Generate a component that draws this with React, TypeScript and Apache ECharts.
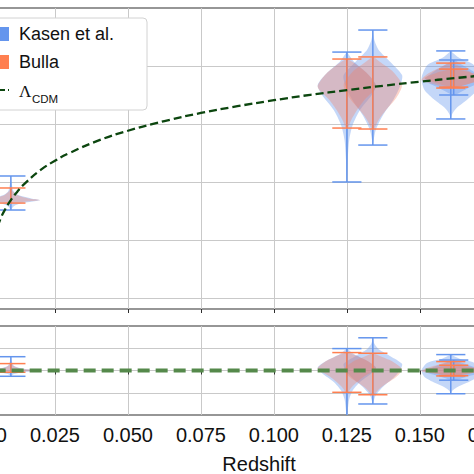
import React, { useEffect, useRef } from "react";
import * as echarts from "echarts";

// ---------- data ----------
const redshiftTicks = [-0.025, 0, 0.025, 0.05, 0.075, 0.1, 0.125, 0.15, 0.175, 0.2];
const muGridValues = [28, 31, 34, 37, 40];
const residualGridValues = [-2, 0, 2];

// Lambda-CDM distance-modulus curve
const lcdmZ = [0.004, 0.0062, 0.008, 0.01, 0.0125, 0.015, 0.02, 0.025, 0.03, 0.04, 0.05, 0.0625, 0.075, 0.0875, 0.1, 0.1125, 0.125, 0.1375, 0.15, 0.1625, 0.175];
const lcdmMu = [31.09, 32.04, 32.6, 33.09, 33.57, 33.97, 34.61, 35.1, 35.5, 36.15, 36.65, 37.15, 37.57, 37.92, 38.23, 38.51, 38.75, 38.98, 39.19, 39.38, 39.56];

// events
const eventZ = [0.0099, 0.125, 0.1339, 0.1606, 0.1616];
const lcdmAtEvent = [33.07, 38.75, 38.92, 39.35, 39.37];

const kasenMin = [32.55, 34.0, 35.91, 37.26, 38.5];
const kasenMax = [34.31, 40.72, 41.86, 40.78, 40.31];
const bullaMin = [32.91, 36.79, 36.74, 38.86, 38.91];
const bullaMax = [33.69, 40.36, 40.47, 40.15, 39.84];

// violin outlines: [distance modulus, relative half-width]
const kasenShapes = [
  [[32.55, 0], [32.75, 0.1], [32.9, 0.35], [33.0, 0.8], [33.07, 1], [33.15, 0.7], [33.3, 0.3], [33.5, 0.1], [33.9, 0.03], [34.31, 0]],
  [[34.0, 0], [35.14, 0.03], [36.17, 0.08], [36.95, 0.2], [37.72, 0.45], [38.5, 0.85], [39.02, 1], [39.69, 0.65], [40.21, 0.25], [40.72, 0]],
  [[35.91, 0], [36.69, 0.1], [37.46, 0.35], [38.24, 0.7], [39.02, 0.95], [39.53, 1], [40.21, 0.6], [40.83, 0.2], [41.34, 0.05], [41.86, 0]],
  [[37.26, 0], [37.52, 0.05], [37.83, 0.2], [38.24, 0.55], [38.76, 0.9], [39.38, 1], [40.05, 0.8], [40.41, 0.3], [40.78, 0]],
  [[38.5, 0.05], [38.86, 0.5], [39.28, 1], [39.69, 0.7], [40.05, 0.3], [40.31, 0.02]],
];
const bullaShapes = [
  [[32.91, 0.05], [33.0, 0.6], [33.07, 1], [33.15, 0.6], [33.3, 0.25], [33.5, 0.08], [33.69, 0]],
  [[36.79, 0.03], [37.21, 0.15], [37.72, 0.35], [38.24, 0.6], [38.91, 1], [39.53, 0.75], [40.05, 0.35], [40.36, 0.02]],
  [[36.74, 0.03], [37.21, 0.2], [37.72, 0.45], [38.34, 0.8], [39.02, 1], [39.69, 0.7], [40.15, 0.3], [40.47, 0.02]],
  [[38.86, 0.1], [39.07, 0.6], [39.28, 1], [39.59, 0.8], [39.9, 0.4], [40.15, 0.05]],
  [[38.91, 0.1], [39.12, 0.6], [39.38, 1], [39.64, 0.6], [39.84, 0.05]],
];

// ---------- styles ----------
const BLUE = "#6495ED";
const ORANGE = "#FF7F50";
const BLUE_FILL = "rgba(100,149,237,0.38)";
const ORANGE_FILL = "rgba(245,128,100,0.34)";
const CURVE = "#0c460f";
const RESID_LINE = "#55894b";
const GRIDC = "#c9c9c9";
const SPINE = "#2e2e2e";
const FONT = "Liberation Sans, Arial, Helvetica, sans-serif";
const HALF = 0.01; // violin half width (redshift units)
const CAP = 0.005;

function bodySeries(shapes: number[][][], fill: string, axis: number, offsets: number[] | null) {
  return {
    type: "custom",
    xAxisIndex: axis,
    yAxisIndex: axis,
    clip: true,
    silent: true,
    data: eventZ.map((z, i) => [z, shapes[i][0][0] - (offsets ? offsets[i] : 0)]),
    encode: { x: 0, y: 1 },
    renderItem: (params: any, api: any) => {
      const i = params.dataIndex;
      const z = eventZ[i];
      const off = offsets ? offsets[i] : 0;
      const sh = shapes[i];
      const right = sh.map(([m, w]) => api.coord([z + w * HALF, m - off]));
      const left = sh
        .slice()
        .reverse()
        .map(([m, w]) => api.coord([z - w * HALF, m - off]));
      return {
        type: "polygon",
        shape: { points: right.concat(left), smooth: 0.25 },
        style: { fill, stroke: "none" },
      };
    },
  };
}

function barSeries(mins: number[], maxs: number[], color: string, axis: number, offsets: number[] | null) {
  return {
    type: "custom",
    xAxisIndex: axis,
    yAxisIndex: axis,
    clip: true,
    silent: true,
    data: eventZ.map((z, i) => [z, maxs[i] - (offsets ? offsets[i] : 0)]),
    encode: { x: 0, y: 1 },
    renderItem: (params: any, api: any) => {
      const i = params.dataIndex;
      const z = eventZ[i];
      const off = offsets ? offsets[i] : 0;
      const lo = mins[i] - off;
      const hi = maxs[i] - off;
      const a = api.coord([z, lo]);
      const b = api.coord([z, hi]);
      const l1 = api.coord([z - CAP, lo]);
      const r1 = api.coord([z + CAP, lo]);
      const l2 = api.coord([z - CAP, hi]);
      const r2 = api.coord([z + CAP, hi]);
      const st = { stroke: color, lineWidth: 1.5 };
      return {
        type: "group",
        children: [
          { type: "line", shape: { x1: a[0], y1: a[1], x2: b[0], y2: b[1] }, style: st },
          { type: "line", shape: { x1: l1[0], y1: l1[1], x2: r1[0], y2: r1[1] }, style: st },
          { type: "line", shape: { x1: l2[0], y1: l2[1], x2: r2[0], y2: r2[1] }, style: st },
        ],
      };
    },
  };
}

const X_MIN = redshiftTicks[0];
const X_MAX = 0.2148;
const GRID_LEFT = -91;
const GRID_W = 700;

function xAxisCfg(grid: number, labels: boolean) {
  return {
    gridIndex: grid,
    type: "value",
    min: X_MIN,
    max: X_MAX,
    interval: 0.025,
    axisLine: { show: false },
    axisTick: { show: true, inside: false, length: 4, lineStyle: { color: SPINE, width: 1 } },
    axisLabel: labels
      ? {
          show: true,
          formatter: (v: number) => v.toFixed(3),
          fontSize: 20,
          fontFamily: FONT,
          color: "#111",
          margin: 10,
          hideOverlap: false,
        }
      : { show: false },
    splitLine: { show: true, lineStyle: { color: GRIDC, width: 1 } },
    ...(labels
      ? {
          name: "Redshift",
          nameLocation: "middle",
          nameGap: 39,
          nameTextStyle: { fontSize: 20, fontFamily: FONT, color: "#111" },
        }
      : {}),
  };
}

export default function App() {
  const ref = useRef<HTMLDivElement>(null);
  useEffect(() => {
    const chart = echarts.init(ref.current as HTMLDivElement, null, { renderer: "svg" });
    const residLcdm = lcdmZ.map((z) => [z, 0]);
    const gridCommon = {
      left: GRID_LEFT,
      width: GRID_W,
      show: true,
      borderColor: SPINE,
      borderWidth: 1.2,
      backgroundColor: "transparent",
      containLabel: false,
      outerBoundsMode: "none",
    };
    const option: any = {
      animation: false,
      backgroundColor: "#ffffff",
      grid: [
        { ...gridCommon, top: 8, height: 301 },
        { ...gridCommon, top: 326, height: 89 },
      ],
      xAxis: [xAxisCfg(0, false), xAxisCfg(1, true)],
      yAxis: [
        {
          gridIndex: 0,
          type: "value",
          min: 27.43,
          max: 43,
          axisLine: { show: false },
          axisTick: { show: false, customValues: muGridValues },
          axisLabel: { show: false, customValues: muGridValues },
          splitLine: { show: true, lineStyle: { color: GRIDC, width: 1 } },
        },
        {
          gridIndex: 1,
          type: "value",
          min: -4,
          max: 4,
          axisLine: { show: false },
          axisTick: { show: false, customValues: residualGridValues },
          axisLabel: { show: false, customValues: residualGridValues },
          splitLine: { show: true, lineStyle: { color: GRIDC, width: 1 } },
        },
      ],
      series: [
        bodySeries(kasenShapes, BLUE_FILL, 0, null),
        bodySeries(bullaShapes, ORANGE_FILL, 0, null),
        barSeries(kasenMin, kasenMax, BLUE, 0, null),
        barSeries(bullaMin, bullaMax, ORANGE, 0, null),
        {
          type: "line",
          name: "ΛCDM",
          xAxisIndex: 0,
          yAxisIndex: 0,
          data: lcdmZ.map((z, i) => [z, lcdmMu[i]]),
          showSymbol: false,
          smooth: 0.5,
          clip: true,
          silent: true,
          lineStyle: { color: CURVE, width: 2.3, type: [8, 4], cap: "butt", join: "round" },
        },
        bodySeries(kasenShapes, BLUE_FILL, 1, lcdmAtEvent),
        bodySeries(bullaShapes, ORANGE_FILL, 1, lcdmAtEvent),
        barSeries(kasenMin, kasenMax, BLUE, 1, lcdmAtEvent),
        barSeries(bullaMin, bullaMax, ORANGE, 1, lcdmAtEvent),
        {
          type: "line",
          name: "ΛCDM residual",
          xAxisIndex: 1,
          yAxisIndex: 1,
          data: residLcdm,
          showSymbol: false,
          clip: true,
          silent: true,
          lineStyle: { color: RESID_LINE, width: 4, type: [12, 6] },
        },
      ],
      graphic: [
        { type: "rect", z: 100, shape: { x: -10, y: 18, width: 157, height: 92, r: 4 }, style: { fill: "#ffffff", stroke: "#d2d2d2", lineWidth: 1 } },
        { type: "rect", z: 101, shape: { x: -19, y: 27, width: 28, height: 14 }, style: { fill: BLUE } },
        { type: "rect", z: 101, shape: { x: -19, y: 55, width: 28, height: 14 }, style: { fill: ORANGE } },
        { type: "line", z: 101, shape: { x1: -19, y1: 90, x2: 9, y2: 90 }, style: { stroke: CURVE, lineWidth: 2, lineDash: [6, 3] } },
        { type: "text", z: 101, x: 19, y: 34, style: { text: "Kasen et al.", fontSize: 18, fontFamily: FONT, fill: "#111", verticalAlign: "middle" } },
        { type: "text", z: 101, x: 19, y: 62, style: { text: "Bulla", fontSize: 18, fontFamily: FONT, fill: "#111", verticalAlign: "middle" } },
        { type: "text", z: 101, x: 19, y: 91, style: { text: "Λ", fontSize: 17, fontFamily: "Liberation Serif, DejaVu Serif, serif", fill: "#111", verticalAlign: "middle" } },
        { type: "text", z: 101, x: 32, y: 99, style: { text: "CDM", fontSize: 11.5, fontFamily: FONT, fill: "#111", verticalAlign: "middle" } },
      ],
    };
    chart.setOption(option);
    return () => chart.dispose();
  }, []);
  return (
    <div
      ref={ref}
      style={{ position: "fixed", left: 0, top: 0, width: 474, height: 474, background: "#fff" }}
    />
  );
}
